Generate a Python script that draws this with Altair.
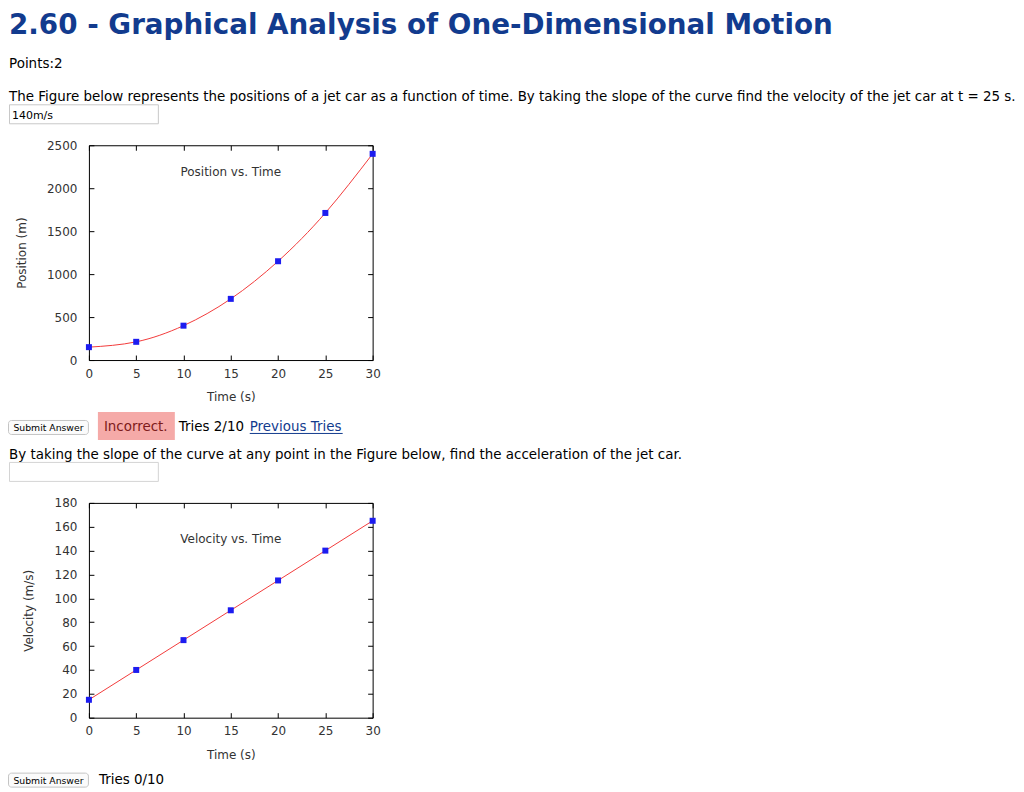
import altair as alt
import pandas as pd

# values
time_s = [0, 5, 10, 15, 20, 25, 30]
position_m = [150, 212, 400, 712, 1150, 1712, 2400]
velocity_ms = [15, 40, 65, 90, 115, 140, 165]
time_ticks = [0, 5, 10, 15, 20, 25, 30]
position_ticks = [0, 500, 1000, 1500, 2000, 2500]
velocity_ticks = [0, 20, 40, 60, 80, 100, 120, 140, 160, 180]

page_title = "2.60 - Graphical Analysis of One-Dimensional Motion"
points_text = "Points:2"
question_1 = ("The Figure below represents the positions of a jet car as a function of time. "
              "By taking the slope of the curve find the velocity of the jet car at t = 25 s.")
answer_1 = "140m/s"
question_2 = ("By taking the slope of the curve at any point in the Figure below, "
              "find the acceleration of the jet car.")

# layout: the first plot area sits at page (88, 145), everything else is relative to it
OX, OY = 88, 145
W, H = 284, 215
GAP = 358  # distance from the top of plot 1 to the top of plot 2
PAD_TOP = 4  # room above the title so its glyphs are not clipped

FONT = "DejaVu Sans"
GRAY = "#333333"
RED = "#f23b3b"
BLUE = "#1c1cf0"
NAVY = "#123b8e"
BODY = 13.45


def px(x):
    return x - OX


def py(y):
    return y - OY


def text(s, x, y, size=BODY, color="black", weight="normal", align="left", baseline="alphabetic"):
    return (
        alt.Chart(pd.DataFrame({"s": [s]}))
        .mark_text(font=FONT, fontSize=size, color=color, fontWeight=weight,
                   align=align, baseline=baseline)
        .encode(x=alt.value(px(x)), y=alt.value(py(y)), text="s:N")
    )


def box(x1, y1, x2, y2, **style):
    return (
        alt.Chart(pd.DataFrame({"k": [0]}))
        .mark_rect(**style)
        .encode(x=alt.value(px(x1)), x2=alt.value(px(x2)),
                y=alt.value(py(y1)), y2=alt.value(py(y2)))
    )


def button(x1, y1, x2, y2):
    return [
        box(x1, y1, x2, y2, fill="#fbfbfb", stroke="#c4c4c4", strokeWidth=1, cornerRadius=3),
        text("Submit Answer", (x1 + x2) / 2, (y1 + y2) / 2 + 0.5, size=9.3, align="center",
             baseline="middle"),
    ]


def tick_axis(orient, offset, values):
    # gnuplot style frame: inward ticks, drawn by an axis flipped onto the opposite edge
    return alt.Axis(orient=orient, offset=offset, values=values, labels=False,
                    ticks=True, tickSize=5, tickColor="black", tickWidth=1,
                    domain=True, domainColor="black", domainWidth=1, grid=False)


def x_label_axis(offset):
    return alt.Axis(orient="bottom", offset=offset, values=time_ticks, ticks=False,
                    tickSize=0, domain=False, grid=False, labelPadding=8,
                    labelFlush=False, labelOverlap=False, format="d",
                    labelFont=FONT, labelFontSize=12, labelColor=GRAY,
                    titleFont=FONT, titleFontSize=12, titleColor=GRAY,
                    titleFontWeight="normal", titleY=37, titleBaseline="middle")


def y_label_axis(values, title_x, title_y):
    return alt.Axis(orient="left", values=values, ticks=False, tickSize=0,
                    domain=False, grid=False, labelPadding=12,
                    labelFlush=False, labelOverlap=False, format="d",
                    labelFont=FONT, labelFontSize=12, labelColor=GRAY,
                    titleFont=FONT, titleFontSize=12, titleColor=GRAY,
                    titleFontWeight="normal", titleAngle=270, titleX=title_x,
                    titleY=title_y, titleAlign="center", titleBaseline="middle")


def figure(df, field, y_scale, y_ticks, y_title, title_x, top, interpolate):
    xs = alt.Scale(domain=[0, 30], nice=False)
    line = alt.Chart(df).mark_line(color=RED, strokeWidth=1, interpolate=interpolate).encode(
        x=alt.X("t:Q", scale=xs, axis=x_label_axis(top), title="Time (s)"),
        y=alt.Y(f"{field}:Q", scale=y_scale, axis=y_label_axis(y_ticks, title_x, top + H / 2),
                title=y_title),
    )
    pts = alt.Chart(df).mark_square(color=BLUE, size=36, opacity=1).encode(
        x=alt.X("t:Q", scale=xs, axis=tick_axis("top", -(top + H), time_ticks), title=None),
        y=alt.Y(f"{field}:Q", scale=y_scale, axis=tick_axis("right", -W, y_ticks), title=None),
    )
    frame = alt.Chart(df).mark_point(opacity=0).encode(
        x=alt.X("t:Q", scale=xs, axis=tick_axis("bottom", top - H, time_ticks), title=None),
        y=alt.Y(f"{field}:Q", scale=y_scale, axis=tick_axis("left", -W, y_ticks), title=None),
    )
    return [line, pts, frame]


pos_df = pd.DataFrame({"t": time_s, "p": position_m})
vel_df = pd.DataFrame({"t": time_s, "v": velocity_ms})

plot_1 = figure(pos_df, "p", alt.Scale(domain=[0, 2500], nice=False), position_ticks,
                "Position (m)", -67, 0, "natural")
plot_2 = figure(vel_df, "v", alt.Scale(domain=[0, 180], nice=False, range=[GAP + H, GAP]),
                velocity_ticks, "Velocity (m/s)", -60, GAP, "linear")

page = [
    text(page_title, 8, 30 + PAD_TOP, size=27.8, color=NAVY, weight="bold"),
    text(points_text, 8, 67.5, size=13.5),
    text(question_1, 8, 101),
    box(8.5, 104.5, 157.5, 123.5, fill="white", stroke="#c8c8c8", strokeWidth=1),
    text(answer_1, 11, 119, size=11),
    text("Position vs. Time", 230, 172, size=12, color=GRAY, align="center", baseline="middle"),
    *button(7.5, 420.5, 87.5, 434.5),
    box(97, 412, 174, 440, fill="#f5aaa8"),
    text("Incorrect.", 103, 431, color="#7d1b1b"),
    text("Tries 2/10", 178, 431),
    text("Previous Tries", 249, 431, color=NAVY),
    alt.Chart(pd.DataFrame({"k": [0]})).mark_rule(color=NAVY, strokeWidth=1).encode(
        x=alt.value(px(249)), x2=alt.value(px(342)), y=alt.value(py(433.5))),
    text(question_2, 8, 459),
    box(8.5, 462.5, 157.5, 481.5, fill="white", stroke="#d4d4d4", strokeWidth=1),
    text("Velocity vs. Time", 230, 539, size=12, color=GRAY, align="center", baseline="middle"),
    *button(7.5, 773.5, 87.5, 787.5),
    text("Tries 0/10", 98, 784),
]

chart = (
    alt.layer(*page, *plot_1, *plot_2)
    .resolve_scale(y="independent")
    .resolve_axis(x="independent", y="independent")
    .properties(width=W, height=H,
                padding={"top": PAD_TOP, "left": 0, "right": 0, "bottom": 0})
    .configure_view(stroke=None)
)

chart.save("out.html", embed_options={"renderer": "svg", "actions": False})
